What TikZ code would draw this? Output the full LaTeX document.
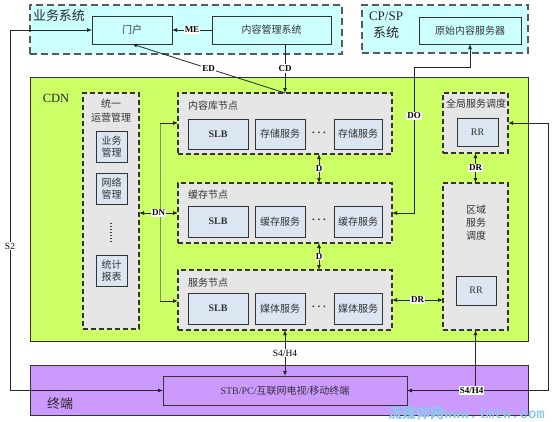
\documentclass[tikz,border=0pt]{standalone}
\usepackage{fontspec}
\setmainfont{Liberation Serif}
\newfontfamily\cjk{Noto Sans CJK SC}
\newfontfamily\wmono{Liberation Mono}
\usetikzlibrary{arrows.meta,calc}
\definecolor{cyanbg}{RGB}{204,255,255}
\definecolor{cdngreen}{RGB}{204,255,102}
\definecolor{grpgray}{RGB}{230,230,230}
\definecolor{boxblue}{RGB}{220,230,242}
\definecolor{termpurple}{RGB}{204,153,255}
\definecolor{edgec}{RGB}{51,51,51}
\definecolor{dnline}{RGB}{110,150,110}
\definecolor{wmark}{RGB}{140,200,235}
\newcommand\zhtxt[1]{{\cjk #1}}
\begin{document}
\begin{tikzpicture}[x=1pt,y=-1pt,
  every node/.style={inner sep=0pt, outer sep=0pt},
  txt/.style={font=\fontsize{10}{13}\selectfont, text=black!80, align=center},
  ibox/.style={txt, draw=edgec, line width=0.9pt, fill=boxblue},
  cbox/.style={txt, draw=edgec, line width=0.9pt, fill=cyanbg},
  grp/.style={draw=edgec, line width=1.3pt, dash pattern=on 5pt off 3pt, fill=grpgray},
  outerdash/.style={draw=black!65, line width=1.3pt, dash pattern=on 7pt off 4pt, fill=cyanbg},
  big/.style={font=\fontsize{13}{15}\selectfont, text=black!85, align=center},
  lbl/.style={fill=white, inner sep=1pt, font=\bfseries\fontsize{9}{10}\selectfont},
  rlbl/.style={fill=white, inner sep=1pt, font=\fontsize{9.5}{10}\selectfont},
  dotsn/.style={font=\bfseries\fontsize{11}{12}\selectfont, text=black!80},
  conn/.style={draw=black!85, line width=0.8pt},
  tip/.style={-{Latex[length=5pt,width=4pt]}},
  tips/.style={{Latex[length=5pt,width=4pt]}-{Latex[length=5pt,width=4pt]}}
]
\useasboundingbox (0,0) rectangle (552,421);

% ---------- top systems ----------
\node[outerdash, minimum width=312pt, minimum height=49pt] (yw) at (186,29.5) {};
\node[big, anchor=west] (ywt) at (33,16) {\zhtxt{业务系统}};
\node[cbox, minimum width=80pt, minimum height=28pt] (portal) at (132,30) {\zhtxt{门户}};
\node[cbox, minimum width=119pt, minimum height=28pt] (cms) at (271.5,30) {\zhtxt{内容管理系统}};

\node[outerdash, minimum width=166pt, minimum height=48pt] (cpsp) at (445,29) {};
\node[big] (cpspt) at (386,16) {CP/SP};
\node[big] (cpspt2) at (386,32.5) {\zhtxt{系统}};
\node[cbox, minimum width=102pt, minimum height=27pt] (orig) at (470,30.5) {\zhtxt{原始内容服务器}};

% ---------- CDN ----------
\node[draw=edgec, line width=0.8pt, fill=cdngreen, minimum width=498pt, minimum height=264pt] (cdn) at (279,209) {};
\node[font=\fontsize{12.5}{14}\selectfont, text=black!85] (cdnt) at (56,98) {CDN};

% operations management
\node[grp, minimum width=56pt, minimum height=236pt] (ops) at (111,211) {};
\node[txt] (opst) at (111,111) {\zhtxt{统一}\\[1pt]\zhtxt{运营管理}};
\node[ibox, minimum width=31pt, minimum height=31pt, font=\fontsize{10}{12}\selectfont] (biz) at (111.5,146.5) {\zhtxt{业务}\\\zhtxt{管理}};
\node[ibox, minimum width=31pt, minimum height=31pt, font=\fontsize{10}{12}\selectfont] (net) at (111.5,188.5) {\zhtxt{网络}\\\zhtxt{管理}};
\node[ibox, minimum width=31pt, minimum height=31pt, font=\fontsize{10}{12}\selectfont] (stat) at (111.5,270.5) {\zhtxt{统计}\\\zhtxt{报表}};
\coordinate (dotA) at (111,223);
\coordinate (dotB) at (111,244);
\draw[black!75, line width=1.2pt, dash pattern=on 1pt off 2pt] (dotA) -- (dotB);

% content library node
\node[grp, minimum width=214pt, minimum height=61pt] (lib) at (285,123.5) {};
\node[txt, anchor=west] (libt) at (188,106) {\zhtxt{内容库节点}};
\node[ibox, minimum width=60pt, minimum height=30pt, font=\bfseries\fontsize{10}{12}\selectfont] (slb1) at (218,134) {SLB};
\node[ibox, minimum width=50pt, minimum height=30pt] (st1) at (280,134) {\zhtxt{存储服务}};
\node[dotsn] (dots1) at (319,134) {·\,·\,·};
\node[ibox, minimum width=48pt, minimum height=30pt] (st2) at (358,134) {\zhtxt{存储服务}};

% cache node
\node[grp, minimum width=214pt, minimum height=60pt] (cache) at (285,213) {};
\node[txt, anchor=west] (cachet) at (188,195) {\zhtxt{缓存节点}};
\node[ibox, minimum width=60pt, minimum height=31pt, font=\bfseries\fontsize{10}{12}\selectfont] (slb2) at (218,221.5) {SLB};
\node[ibox, minimum width=50pt, minimum height=31pt] (ca1) at (280,221.5) {\zhtxt{缓存服务}};
\node[dotsn] (dots2) at (319,221.5) {·\,·\,·};
\node[ibox, minimum width=48pt, minimum height=31pt] (ca2) at (358,221.5) {\zhtxt{缓存服务}};

% service node
\node[grp, minimum width=214pt, minimum height=60pt] (svc) at (285,300) {};
\node[txt, anchor=west] (svct) at (188,283) {\zhtxt{服务节点}};
\node[ibox, minimum width=60pt, minimum height=31pt, font=\bfseries\fontsize{10}{12}\selectfont] (slb3) at (218,308.5) {SLB};
\node[ibox, minimum width=50pt, minimum height=31pt] (me1) at (280,308.5) {\zhtxt{媒体服务}};
\node[dotsn] (dots3) at (319,308.5) {·\,·\,·};
\node[ibox, minimum width=48pt, minimum height=31pt] (me2) at (358,308.5) {\zhtxt{媒体服务}};

% global scheduling
\node[grp, minimum width=65pt, minimum height=60pt] (glob) at (475.5,123) {};
\node[txt] (globt) at (476,103.5) {\zhtxt{全局服务调度}};
\node[ibox, minimum width=41pt, minimum height=28pt] (rr1) at (477.5,132) {RR};

% regional scheduling
\node[grp, minimum width=65pt, minimum height=147pt] (reg) at (475.5,256.5) {};
\node[txt, font=\fontsize{10}{13}\selectfont] (regt) at (476,223) {\zhtxt{区域}\\\zhtxt{服务}\\\zhtxt{调度}};
\node[ibox, minimum width=40pt, minimum height=29pt] (rr2) at (476,290.5) {RR};

% ---------- terminal ----------
\node[draw=edgec, line width=0.8pt, fill=termpurple, minimum width=498pt, minimum height=50pt] (term) at (279,390) {};
\node[big] (termt) at (60,404) {\zhtxt{终端}};
\node[txt, draw=edgec, line width=0.9pt, fill=termpurple, minimum width=244pt, minimum height=29pt] (stb) at (285,390.5) {STB/PC/\zhtxt{互联网电视}/\zhtxt{移动终端}};

% ---------- connectors ----------
% ME
\draw[conn, tip] (cms.west) -- node[lbl] {ME} (portal.east);
% ED
\draw[conn, tip] (lib.north) -- node[lbl] {ED} (portal.south);
% CD
\draw[conn, tip] (cms.south -| lib.north) -- node[lbl] {CD} (lib.north);
% DO
\coordinate (do1) at (414,67);
\draw[conn, tips] (cache.east) -| (do1) -| (orig.south);
\node[lbl] (dol) at (414,116) {DO};
% D between nodes
\draw[conn, tips] ($(lib.south)+(34,0)$) -- node[lbl] {D} ($(cache.north)+(34,0)$);
\draw[conn, tips] ($(cache.south)+(34,0)$) -- node[lbl] {D} ($(svc.north)+(34,0)$);
% DN
\coordinate (dntop) at (160,123);
\coordinate (dnbot) at (160,301);
\draw[draw=dnline, line width=0.8pt] (dntop) -- (dnbot);
\draw[conn, tip] (dntop) -- (dntop -| lib.west);
\draw[conn, tip] (dnbot) -- (dnbot -| svc.west);
\draw[conn, tips] (ops.east |- cache.west) -- node[lbl] {DN} (cache.west);
% DR
\draw[conn, tips] (svc.east) -- node[lbl] {DR} (svc.east -| reg.west);
\draw[conn, tips] (glob.south) -- node[lbl] {DR} (reg.north);
% S4/H4 left
\draw[conn, tips] (svc.south) -- node[rlbl] {S4/H4} (stb.north);
% right loop
\coordinate (r1) at (548,391);
\draw[conn, tips] (stb.east) -- (stb.east -| r1) |- (glob.east);
\coordinate (r3) at (stb.east -| reg.south);
\draw[conn, tip] (r3) -- (reg.south);
\node[lbl] (s4r) at ($(r3)+(-4,0)$) {S4/H4};
% S2
\coordinate (l1) at (10,30);
\draw[conn, tips] (portal.west) -- (portal.west -| l1) -- (l1 |- stb.west) -- (stb.west);
\node[rlbl] (s2) at (10,246) {S2};

% watermark
\node[anchor=west, text=wmark, font=\bfseries\fontsize{14}{14}\selectfont] (wm) at (388,413) {\zhtxt{流媒体网}{\wmono www.lmtw.com}};
\end{tikzpicture}
\end{document}
